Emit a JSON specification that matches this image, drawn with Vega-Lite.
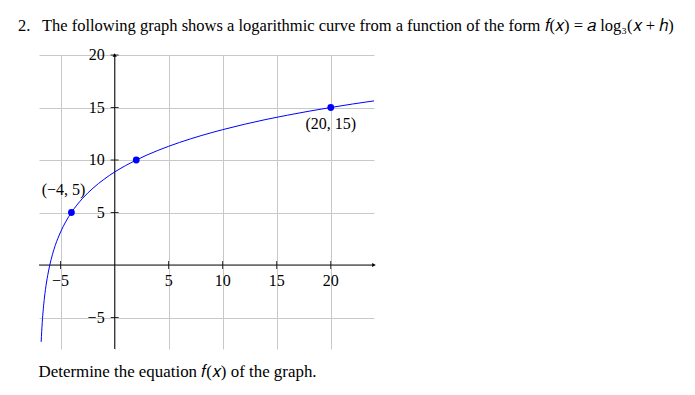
{
  "$schema": "https://vega.github.io/schema/vega-lite/v6.json",
  "width": 335,
  "height": 294,
  "autosize": "none",
  "padding": {"left": 39, "top": 55, "right": 321, "bottom": 46},
  "background": "white",
  "title": {
    "text": "2.\u2002\u2009The following graph shows a logarithmic curve from a function of the form 𝑓(𝑥) = 𝑎 log₃(𝑥 + ℎ)",
    "anchor": "start",
    "frame": "group",
    "dx": -21,
    "offset": 0,
    "baseline": "alphabetic",
    "font": "Liberation Serif",
    "fontSize": 16.5,
    "fontWeight": "normal",
    "color": "black"
  },
  "config": {"view": {"stroke": null}},
  "layer": [
    {
      "data": {"values": [{"x": -7, "x2": 24, "y": 0, "y2": 0}, {"x": 0, "x2": 0, "y": -8, "y2": 20}]},
      "mark": {"type": "rule", "color": "black", "strokeWidth": 0.9},
      "encoding": {
        "x": {"field": "x", "type": "quantitative",
          "scale": {"domain": [-7, 24], "nice": false, "zero": false},
          "axis": {"grid": true, "values": [-5, 0, 5, 10, 15, 20], "labels": false, "ticks": false, "domain": false,
            "gridColor": "#c8c8c8", "gridWidth": 1, "gridOpacity": 1,
            "title": "Determine the equation 𝑓(𝑥) of the graph.", "titleX": -1, "titleY": 27,
            "titleAlign": "left", "titleAnchor": "start", "titleBaseline": "alphabetic",
            "titleFont": "Liberation Serif", "titleFontSize": 16.9, "titleFontWeight": "normal", "titleColor": "black"}},
        "x2": {"field": "x2"},
        "y": {"field": "y", "type": "quantitative",
          "scale": {"domain": [-8, 20], "nice": false, "zero": false},
          "axis": {"grid": true, "values": [-5, 0, 5, 10, 15, 20], "labels": false, "ticks": false, "domain": false,
            "gridColor": "#c8c8c8", "gridWidth": 1, "gridOpacity": 1, "title": null}},
        "y2": {"field": "y2"}
      }
    },
    {
      "data": {"values": [{"v": -5}, {"v": 5}, {"v": 10}, {"v": 15}, {"v": 20}]},
      "mark": {"type": "tick", "orient": "vertical", "size": 8, "thickness": 0.8, "color": "black", "opacity": 1},
      "encoding": {"x": {"field": "v", "type": "quantitative"}, "y": {"datum": 0}}
    },
    {
      "data": {"values": [{"v": -5}, {"v": 5}, {"v": 10}, {"v": 15}, {"v": 20}]},
      "mark": {"type": "tick", "orient": "horizontal", "size": 8, "thickness": 0.8, "color": "black", "opacity": 1},
      "encoding": {"y": {"field": "v", "type": "quantitative"}, "x": {"datum": 0}}
    },
    {
      "data": {"values": [{"x": 24, "y": 0}]},
      "mark": {"type": "point", "shape": "triangle-right", "size": 18, "filled": true, "color": "black", "opacity": 1},
      "encoding": {"x": {"field": "x", "type": "quantitative"}, "y": {"field": "y", "type": "quantitative"}}
    },
    {
      "data": {"values": [{"x": 0, "y": 20}]},
      "mark": {"type": "point", "shape": "triangle-up", "size": 18, "filled": true, "color": "black", "opacity": 1},
      "encoding": {"x": {"field": "x", "type": "quantitative"}, "y": {"field": "y", "type": "quantitative"}}
    },
    {
      "data": {"values": [
        {"x": -6.8, "y": -7.32}, {"x": -6.7, "y": -5.48}, {"x": -6.6, "y": -4.17}, {"x": -6.5, "y": -3.15},
        {"x": -6.4, "y": -2.32}, {"x": -6.2, "y": -1.02}, {"x": -6.0, "y": 0}, {"x": -5.75, "y": 1.02},
        {"x": -5.5, "y": 1.85}, {"x": -5.0, "y": 3.15}, {"x": -4.5, "y": 4.17}, {"x": -4.0, "y": 5},
        {"x": -3.5, "y": 5.70}, {"x": -3.0, "y": 6.31}, {"x": -2.0, "y": 7.32}, {"x": -1.0, "y": 8.15},
        {"x": 0, "y": 8.86}, {"x": 1, "y": 9.46}, {"x": 2, "y": 10}, {"x": 3, "y": 10.48},
        {"x": 4, "y": 10.91}, {"x": 6, "y": 11.67}, {"x": 8, "y": 12.32}, {"x": 10, "y": 12.89},
        {"x": 12, "y": 13.40}, {"x": 14, "y": 13.86}, {"x": 16, "y": 14.27}, {"x": 18, "y": 14.65},
        {"x": 20, "y": 15}, {"x": 22, "y": 15.33}, {"x": 24, "y": 15.63}
      ]},
      "mark": {"type": "line", "color": "#0000ff", "strokeWidth": 1, "interpolate": "monotone"},
      "encoding": {"x": {"field": "x", "type": "quantitative"}, "y": {"field": "y", "type": "quantitative"}}
    },
    {
      "data": {"values": [{"x": -4, "y": 5}, {"x": 2, "y": 10}, {"x": 20, "y": 15}]},
      "mark": {"type": "circle", "size": 46, "color": "#0000ff", "opacity": 1},
      "encoding": {"x": {"field": "x", "type": "quantitative"}, "y": {"field": "y", "type": "quantitative"}}
    },
    {
      "data": {"values": [{"x": -4, "y": 5, "label": "(−4, 5)"}]},
      "mark": {"type": "text", "align": "right", "baseline": "alphabetic", "dx": 14, "dy": -18, "font": "Liberation Serif", "fontSize": 16, "color": "black"},
      "encoding": {"x": {"field": "x", "type": "quantitative"}, "y": {"field": "y", "type": "quantitative"}, "text": {"field": "label"}}
    },
    {
      "data": {"values": [{"x": 20, "y": 15, "label": "(20, 15)"}]},
      "mark": {"type": "text", "align": "center", "baseline": "alphabetic", "dy": 21, "font": "Liberation Serif", "fontSize": 16, "color": "black"},
      "encoding": {"x": {"field": "x", "type": "quantitative"}, "y": {"field": "y", "type": "quantitative"}, "text": {"field": "label"}}
    },
    {
      "data": {"values": [{"v": -5, "t": "−5"}, {"v": 5, "t": "5"}, {"v": 10, "t": "10"}, {"v": 15, "t": "15"}, {"v": 20, "t": "20"}]},
      "mark": {"type": "text", "align": "center", "baseline": "alphabetic", "dy": 21, "font": "Liberation Serif", "fontSize": 16, "color": "black"},
      "encoding": {"x": {"field": "v", "type": "quantitative"}, "y": {"datum": 0}, "text": {"field": "t"}}
    },
    {
      "data": {"values": [{"v": -5, "t": "−5"}, {"v": 5, "t": "5"}, {"v": 10, "t": "10"}, {"v": 15, "t": "15"}, {"v": 20, "t": "20"}]},
      "mark": {"type": "text", "align": "right", "baseline": "middle", "dx": -10, "font": "Liberation Serif", "fontSize": 16, "color": "black"},
      "encoding": {"y": {"field": "v", "type": "quantitative"}, "x": {"datum": 0}, "text": {"field": "t"}}
    }
  ]
}
